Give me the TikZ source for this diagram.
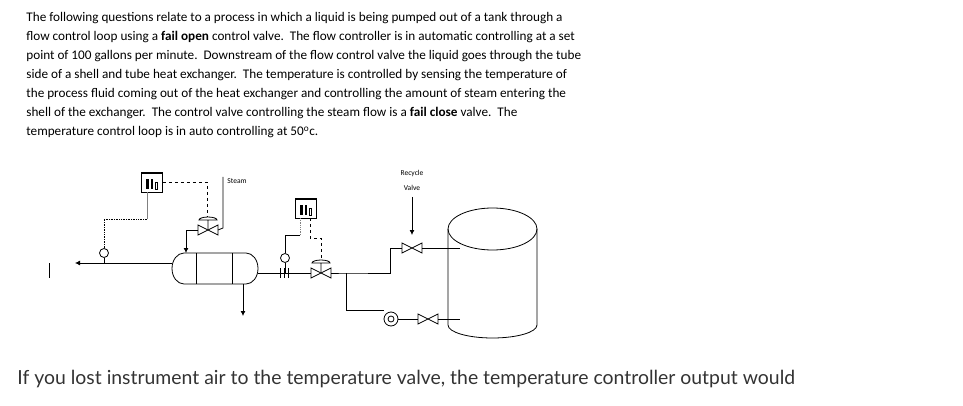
\documentclass[tikz,border=0pt]{standalone}
\usepackage{fontspec}
\setmainfont{Carlito}
\newfontfamily\qfont{Lato}
\usetikzlibrary{arrows.meta,calc}
\definecolor{qgrey}{HTML}{333333}
\begin{document}
\begin{tikzpicture}[x=1pt,y=-1pt,line width=0.8pt,
  body/.style={anchor=base west,inner sep=0pt,font=\fontsize{13.2}{15}\selectfont},
  lbl/.style={inner sep=0pt,font=\fontsize{7.5}{9}\selectfont},
  sig/.style={draw,dashed,line width=0.8pt},
  arr/.style={-{Latex[length=5pt,width=5pt]}},
  ctrl/.style={draw,minimum width=21pt,minimum height=20pt,inner sep=0pt},
  sensor/.style={draw,circle,minimum size=9pt,inner sep=0pt,fill=white}]
\useasboundingbox (0,0) rectangle (963,406);
% text
\foreach \t [count=\i] in {
 {The following questions relate to a process in which a liquid is being pumped out of a tank through a},
 {flow control loop using a \textbf{fail open} control valve.\ \ The flow controller is in automatic controlling at a set},
 {point of 100 gallons per minute.\ \ Downstream of the flow control valve the liquid goes through the tube},
 {side of a shell and tube heat exchanger.\ \ The temperature is controlled by sensing the temperature of},
 {the process fluid coming out of the heat exchanger and controlling the amount of steam entering the},
 {shell of the exchanger.\ \ The control valve controlling the steam flow is a \textbf{fail close} valve.\ \ The},
 {temperature control loop is in auto controlling at 50\textsuperscript{o}c.}}
 \node[body] (t\i) at (26,{3+19*\i}) {\t};
\node[anchor=base west,inner sep=0pt,text=qgrey,font=\qfont\fontsize{19.4}{22}\selectfont] (q) at (17,384)
 {If you lost instrument air to the temperature valve, the temperature controller output would};
% controllers
\newcommand{\ctrlicon}[2]{%
 \node[ctrl] (#1) at #2 {};
 \draw[line width=1.6pt] ([yshift=-2pt]#1.north west) -- ([yshift=-2pt]#1.north east);
 \fill ($(#1)+(-6,-3)$) rectangle ++(2.5,10);
 \fill ($(#1)+(-1.5,-3)$) rectangle ++(2.5,10);
 \draw[line width=0.6pt] ($(#1)+(3,0)$) rectangle ++(2,7);}
\ctrlicon{c1}{(152,182)}
\ctrlicon{c2}{(306,208)}
% heat exchanger
\draw (184,253) -- (246,253) arc (-90:90:12 and 15.5) -- (184,284) arc (90:270:12 and 15.5) -- cycle;
\node[inner sep=0pt,minimum width=84pt,minimum height=31pt] (hx) at (214,268.5) {};
\draw (196,253) -- (196,284) (232,253) -- (232,284);
% valves
\newcommand{\valve}[2]{%
 \coordinate (#1) at #2;
 \draw[line join=miter] ($(#1)+(-10,-5)$) -- ($(#1)+(10,5)$) -- ($(#1)+(10,-5)$) -- ($(#1)+(-10,5)$) -- cycle;}
\valve{v1}{(208,230)}
\valve{v2}{(321,273)}
\valve{v3}{(412,248)}
\valve{v4}{(428,319)}
% actuators
\draw (v1) -- ++(0,-10) (199,220) arc (180:360:9 and 3) -- cycle;
\draw (v2) -- ++(0,-10) (312,263) arc (180:360:9 and 3) -- cycle;
% tank
\draw (492.5,229) ellipse (44.5 and 21);
\draw (448,229) -- (448,325) arc (180:0:44.5 and 13) -- (537,229);
\coordinate (tk1) at (460,248);
\coordinate (tk2) at (460,319);
% steam
\node[lbl,anchor=west] (steam) at (227,181) {Steam};
\draw (223,177) -- (223,228) -- ($(v1)+(10,0)$);
\draw[arr] ($(v1)+(-10,0)$) -- (186,230) -- (186,253);
\draw[sig] (c1.east) -- (207,182) -- (207,217);
% outlet
\draw[arr] (172,263) -- (75,263);
\node[sensor] (s1) at (104,253) {};
\draw (s1.south) -- (104,263);
\draw[densely dotted,line width=0.7pt] (s1.north) -- (104,219) -- (147,219);
\draw[gray] (147,219) -- (147,192);
\draw[arr] (243,284) -- (243,316);
\draw (49,263) -- (49,278);
% flow loop
\draw (258,273) -- ($(v2)+(-10,0)$);
\draw (280,268) -- (280,278) (284,268) -- (284,278) (288,268) -- (288,278);
\node[sensor] (s2) at (285,258) {};
\draw (s2.south) -- (285,273);
\draw (s2.north) -- (285,235) -- (300,235);
\draw[gray,densely dotted] (300,235) -- (300,218);
\draw[sig] (310,218) -- (310,238) -- (321,238) -- (321,260);
% downstream
\draw ($(v2)+(10,0)$) -- (346,273) -- (390,273) -- (390,248) -- ($(v3)+(-10,0)$);
\draw ($(v3)+(10,0)$) -- (tk1);
\draw (346,273) -- (346,310) -- (384,310);
\node[draw,circle,minimum size=14pt,inner sep=0pt] (pump) at (391,319) {};
\node[draw,circle,minimum size=6pt,inner sep=0pt] at (pump) {};
\draw (pump.east) -- ($(v4)+(-10,0)$);
\draw ($(v4)+(10,0)$) -- (tk2);
% recycle
\node[lbl] (rec) at (412,174) {Recycle};
\node[lbl] (rv) at (412,188) {Valve};
\draw[arr] (412,197) -- (412,235);
\end{tikzpicture}
\end{document}
